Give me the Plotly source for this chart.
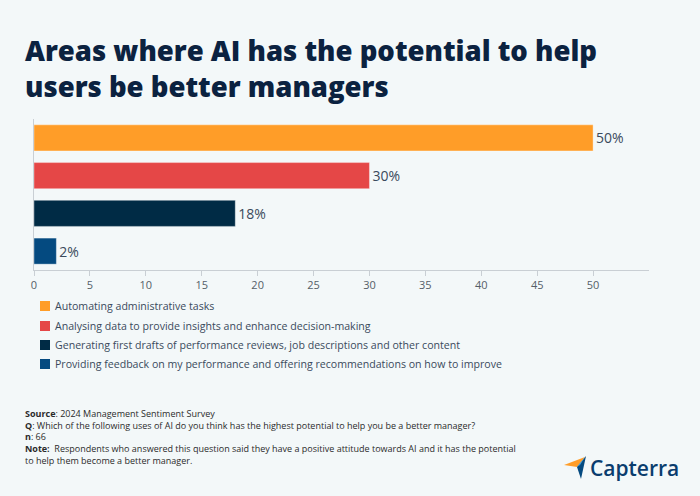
import plotly.graph_objects as go

# ---- data ----
categories = [
    "Automating administrative tasks",
    "Analysing data to provide insights and enhance decision-making",
    "Generating first drafts of performance reviews, job descriptions and other content",
    "Providing feedback on my performance and offering recommendations on how to improve",
]
values = [50, 30, 18, 2]
colors = ["#FF9D28", "#E54747", "#002B45", "#044A80"]
x_ticks = [0, 5, 10, 15, 20, 25, 30, 35, 40, 45, 50]

title_text = "Areas where AI has the potential to help<br>users be better managers"
footnote_lines = [
    "<b>Source</b>: 2024 Management Sentiment Survey",
    "<b>Q</b>: Which of the following uses of AI do you think has the highest potential to help you be a better manager?",
    "<b>n</b>: 66",
    "<b>Note:</b>  Respondents who answered this question said they have a positive attitude towards AI and it has the potential",
    "to help them become a better manager.",
]

W, H = 700, 496
L, R, T, B = 34, 51, 119, 226
PW, PH = W - L - R, H - T - B
BG = "#F3F8F9"
TXT = "#3A4A5C"
FONT = "Open Sans"


def px(xp):
    return (xp - L) / PW


def py(yp):
    return (H - B - yp) / PH


fig = go.Figure()
fig.add_trace(go.Bar(
    x=values, y=categories, orientation="h",
    marker=dict(color=colors, line=dict(width=1, color="rgba(255,255,255,0.35)")),
    texttemplate="%{x}%", textposition="outside", cliponaxis=False,
    textfont=dict(size=14, color=TXT, family=FONT),
    showlegend=False,
))

annotations = []
shapes = []

# title
annotations.append(dict(
    text=title_text, x=px(23), y=py(30), xref="paper", yref="paper",
    xanchor="left", yanchor="top", showarrow=False, align="left",
    font=dict(family=FONT, size=27.5, color="#0B2240", weight=800),
))

# legend (manual)
leg_y = [306, 326, 345, 364]
for cat, col, yy in zip(categories, colors, leg_y):
    shapes.append(dict(type="rect", xref="paper", yref="paper",
                       x0=px(40), x1=px(50), y0=py(yy - 5), y1=py(yy + 5),
                       fillcolor=col, line=dict(width=0)))
    annotations.append(dict(
        text=cat, x=px(53), y=py(yy), xref="paper", yref="paper",
        xanchor="left", yanchor="middle", showarrow=False,
        font=dict(family=FONT, size=10.6, color=TXT),
    ))

# footnote (one block)
annotations.append(dict(
    text="<br>".join(footnote_lines), x=px(23), y=py(437), xref="paper", yref="paper",
    xanchor="left", yanchor="middle", showarrow=False, align="left",
    font=dict(family=FONT, size=9, color="#2B2B2B"),
))

# logo
shapes.append(dict(type="path", xref="paper", yref="paper",
                   path=f"M{px(564)},{py(465)} L{px(585)},{py(457)} L{px(577)},{py(467)} Z",
                   fillcolor="#FF9D28", line=dict(width=0)))
shapes.append(dict(type="path", xref="paper", yref="paper",
                   path=f"M{px(577)},{py(467)} L{px(586)},{py(456)} L{px(581)},{py(479)} Z",
                   fillcolor="#044A80", line=dict(width=0)))
shapes.append(dict(type="path", xref="paper", yref="paper",
                   path=f"M{px(577)},{py(467)} L{px(585)},{py(457)} L{px(580)},{py(465)} Z",
                   fillcolor="#4BA3D9", line=dict(width=0)))
annotations.append(dict(
    text="Capterra", x=px(588), y=py(468), xref="paper", yref="paper",
    xanchor="left", yanchor="middle", showarrow=False,
    font=dict(family=FONT, size=21, color="#0A3D6E", weight=600),
))

fig.update_layout(
    width=W, height=H,
    margin=dict(l=L, r=R, t=T, b=B),
    paper_bgcolor=BG, plot_bgcolor=BG,
    bargap=0.31,
    font=dict(family=FONT, color=TXT),
    annotations=annotations, shapes=shapes,
    xaxis=dict(range=[0, 55], tickvals=x_ticks, showgrid=False, zeroline=False,
               showline=True, linecolor="#C9CFD4", linewidth=1,
               ticks="outside", ticklen=5, tickcolor="#C9CFD4",
               tickfont=dict(size=11, color="#555E68", family=FONT)),
    yaxis=dict(autorange="reversed", showticklabels=False, showgrid=False,
               zeroline=False, showline=True, linecolor="#C9CFD4", linewidth=1,
               ticks=""),
)

fig.write_html("out.html")
